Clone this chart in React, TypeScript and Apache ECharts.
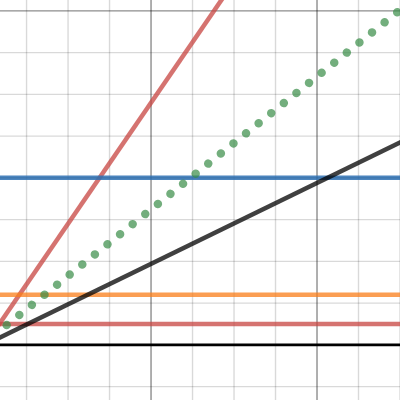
import { useEffect, useRef } from 'react';
import * as echarts from 'echarts';

// visible window (graph units)
const xRange = [0.18, 5];
const yRange = [-0.66, 4.13];

// grid lines
const minorX = [0.5, 1, 1.5, 2.5, 3, 3.5, 4.5, 5];
const majorX = [2, 4];
const minorY = [-0.5, 0.5, 1, 1.5, 2.5, 3, 3.5];
const majorY = [2, 4];
const axisY = [0];

// plotted lines, as end points [x, y]
const redSteep = [[0, 0], [3, 4.35]];
const blueLevel = [[0, 2], [5.2, 2]];
const orangeLevel = [[0, 0.6], [5.2, 0.6]];
const redLevel = [[0, 0.25], [5.2, 0.25]];
const blackSlope = [[0, 0], [5.2, 2.522]];
const greenDots = [[0.2607, 0.2375], [5.0, 4.01]];

const MINOR = 'rgba(0,0,0,0.15)';
const MAJOR = 'rgba(0,0,0,0.45)';

export default function App() {
  const chartRef = useRef<HTMLDivElement>(null);

  useEffect(() => {
    document.body.style.margin = '0';
    if (!chartRef.current) return;
    const chart = echarts.init(chartRef.current, undefined, { renderer: 'svg' });

    const vLine = (x: number, color: string, width: number) => ({
      type: 'line' as const,
      data: [[x, yRange[0]], [x, yRange[1]]],
      showSymbol: false,
      silent: true,
      lineStyle: { color, width },
    });
    const hLine = (y: number, color: string, width: number) => ({
      type: 'line' as const,
      data: [[xRange[0], y], [xRange[1], y]],
      showSymbol: false,
      silent: true,
      lineStyle: { color, width },
    });
    const curve = (data: number[][], color: string, extra = {}) => ({
      type: 'line' as const,
      data,
      showSymbol: false,
      silent: true,
      lineStyle: { color, width: 4.5, opacity: 0.75, ...extra },
    });

    const option: echarts.EChartsOption = {
      animation: false,
      grid: { left: 0, right: 0, top: 0, bottom: 0 },
      xAxis: {
        type: 'value',
        min: xRange[0],
        max: xRange[1],
        show: false,
      },
      yAxis: {
        type: 'value',
        min: yRange[0],
        max: yRange[1],
        show: false,
      },
      series: [
        ...minorX.map((x) => vLine(x, MINOR, 1.4)),
        ...minorY.map((y) => hLine(y, MINOR, 1.4)),
        ...majorX.map((x) => vLine(x, MAJOR, 1.4)),
        ...majorY.map((y) => hLine(y, MAJOR, 1.4)),
        ...axisY.map((y) => hLine(y, '#000', 2.6)),
        curve(redSteep, '#c74440'),
        curve(blueLevel, '#2d70b3', { opacity: 0.85 }),
        curve(orangeLevel, '#fa7e19'),
        curve(redLevel, '#c74440'),
        curve(blackSlope, '#000000'),
        curve(greenDots, '#388c46', { width: 8.5, type: [0.01, 16.13], cap: 'round', opacity: 0.7 }),
      ],
    };

    chart.setOption(option);
    return () => chart.dispose();
  }, []);

  return <div ref={chartRef} style={{ width: 400, height: 400 }} />;
}
